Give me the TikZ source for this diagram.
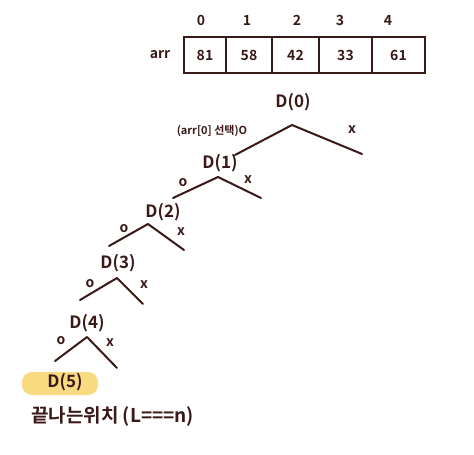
\documentclass[tikz,border=0pt]{standalone}
\usepackage{fontspec}
\setmainfont{Noto Sans CJK KR}[BoldFont={Noto Sans CJK KR Bold}]
\definecolor{ink}{HTML}{3A1A18}
\definecolor{hl}{HTML}{F8DA80}
\begin{document}
\begin{tikzpicture}[x=1pt,y=-1pt,
  lbl/.style={text=ink,font=\fontsize{17}{17}\selectfont\bfseries,inner sep=0pt},
  sm/.style={text=ink,font=\fontsize{14}{14}\selectfont\bfseries,inner sep=0pt},
  tiny/.style={text=ink,font=\fontsize{11}{11}\selectfont\bfseries,inner sep=0pt},
  br/.style={draw=ink,line width=2pt,line cap=round,line join=round},
  cell/.style={draw=ink,line width=1.6pt,minimum height=36pt,inner sep=0pt,outer sep=0pt,text=ink,font=\fontsize{14}{14}\selectfont\bfseries}]
\useasboundingbox[fill=white] (0,0) rectangle (474,455);
% array
\node[cell,minimum width=42pt,anchor=north west] (c0) at (184,37) {81};
\node[cell,minimum width=46pt,anchor=west] (c1) at (c0.east) {58};
\node[cell,minimum width=47pt,anchor=west] (c2) at (c1.east) {42};
\node[cell,minimum width=53pt,anchor=west] (c3) at (c2.east) {33};
\node[cell,minimum width=53pt,anchor=west] (c4) at (c3.east) {61};
\node[sm] (i0) at (201,20) {0};
\node[sm] (i1) at (247,20) {1};
\node[sm] (i2) at (297,20) {2};
\node[sm] (i3) at (340,20) {3};
\node[sm] (i4) at (388,20) {4};
\node[sm] (arr) at (160,55) {arr};
% D(0)
\node[lbl] (d0) at (293,102) {D(0)};
\coordinate (p0) at (292,125);
\coordinate (l0) at (235,155);
\coordinate (r0) at (362,154);
\draw[br] (l0) -- (p0) -- (r0);
\node[tiny] (a0) at (212,131) {(arr[0] 선택)O};
\node[sm] (x0) at (352,130) {x};
% D(1)
\node[lbl] (d1) at (220,163) {D(1)};
\coordinate (p1) at (218,177);
\coordinate (l1) at (173,198);
\coordinate (r1) at (261,198);
\draw[br] (l1) -- (p1) -- (r1);
\node[sm] (o1) at (183,183) {o};
\node[sm] (x1) at (248,180) {x};
% D(2)
\node[lbl] (d2) at (163,212) {D(2)};
\coordinate (p2) at (148,224);
\coordinate (l2) at (109,246);
\coordinate (r2) at (184,250);
\draw[br] (l2) -- (p2) -- (r2);
\node[sm] (o2) at (124,229) {o};
\node[sm] (x2) at (181,232) {x};
% D(3)
\node[lbl] (d3) at (118,263) {D(3)};
\coordinate (p3) at (117,278);
\coordinate (l3) at (80,300);
\coordinate (r3) at (143,304);
\draw[br] (l3) -- (p3) -- (r3);
\node[sm] (o3) at (90,284) {o};
\node[sm] (x3) at (144,285) {x};
% D(4)
\node[lbl] (d4) at (87,323) {D(4)};
\coordinate (p4) at (87,337);
\coordinate (l4) at (55,361);
\coordinate (r4) at (117,368);
\draw[br] (l4) -- (p4) -- (r4);
\node[sm] (o4) at (61,341) {o};
\node[sm] (x4) at (110,343) {x};
% D(5)
\fill[hl,rounded corners=10pt] (22,372) rectangle (98,395);
\node[lbl] (d5) at (65,382) {D(5)};
\node[lbl,anchor=west,font=\fontsize{19}{19}\selectfont\bfseries] (end) at (31,416) {끝나는위치 (L===n)};
\end{tikzpicture}
\end{document}
